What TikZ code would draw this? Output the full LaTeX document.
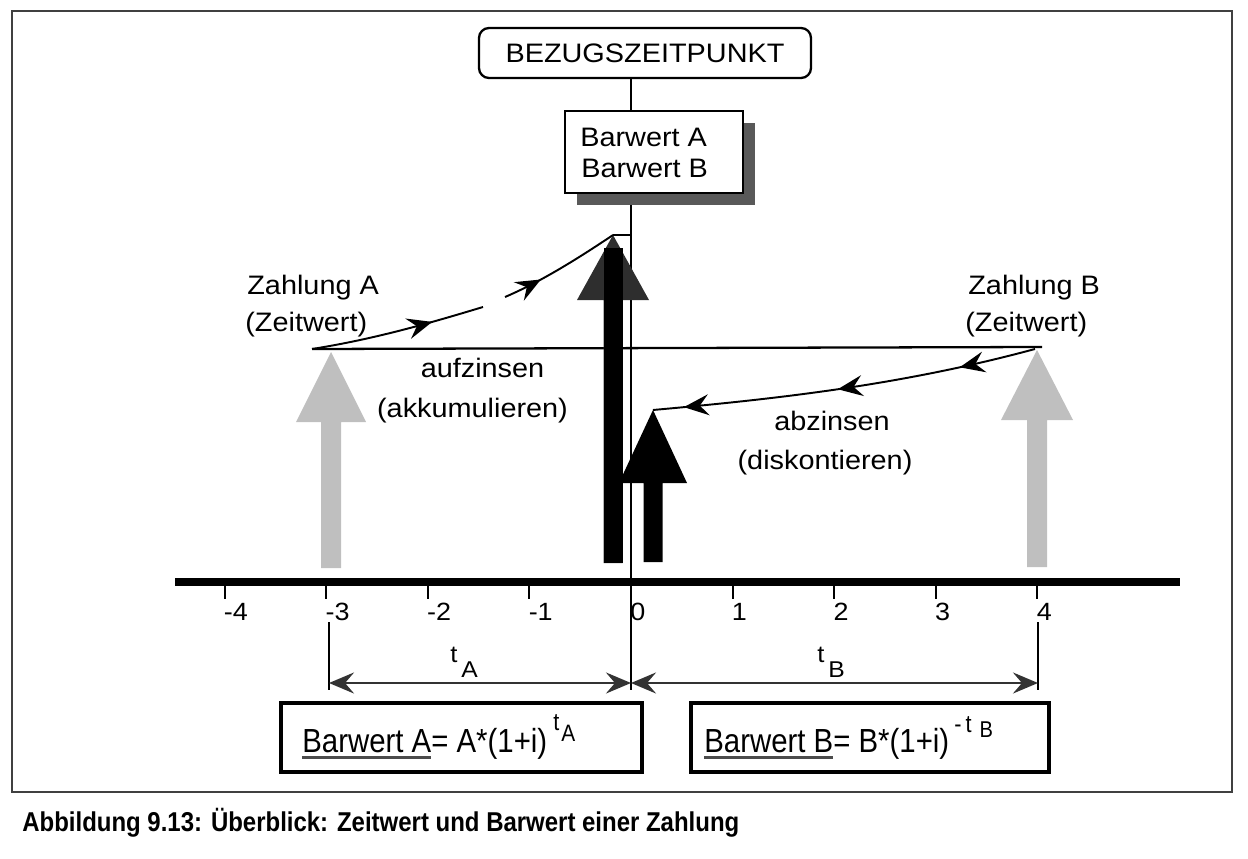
\documentclass[tikz,border=0pt]{standalone}
\usepackage{fontspec}
\setmainfont{Liberation Sans}[FakeStretch=1.08]
\newfontfamily\formelfont{Liberation Sans}[FakeStretch=0.88]
\newfontfamily\titelfont{Liberation Sans}[FakeStretch=0.88]
\usetikzlibrary{arrows.meta,decorations.markings,shadows}

\tikzset{spitze/.tip={Stealth[length=0.5cm,width=0.42cm,inset=0.18cm]}}

\newcommand{\lblfont}{\fontsize{15.2}{18}\selectfont}
\newcommand{\zahlfont}{\fontsize{14.2}{16}\selectfont}
\newsavebox{\ulbox}
\newcommand{\unterstr}[1]{\sbox{\ulbox}{#1}\rlap{\color{black!70}\rule[-0.14cm]{\wd\ulbox}{0.07cm}}\usebox{\ulbox}}
% x, unten, kopf, spitze, halber schaft, halber kopf
\newcommand{\blockpfeil}[7][black]{%
  \fill[#1] ({#2-#6},#3) -- ({#2+#6},#3) -- ({#2+#6},#4) -- ({#2+#7},#4) -- (#2,#5)
    -- ({#2-#7},#4) -- ({#2-#6},#4) -- cycle;}

\begin{document}
\begin{tikzpicture}[
  linie/.style={line width=1.3pt},
  kurve/.style={line width=1.1pt, postaction={decorate}},
  grau/.style={fill=black!25},
  rahmenbox/.style={draw, line width=2.2pt, minimum width=7.22cm, minimum height=1.38cm},
  mass/.style={line width=1.6pt, black!80, {spitze}-{spitze}},
  beschr/.style={font=\lblfont, anchor=base west, inner sep=0},
  mitte/.style={font=\lblfont, anchor=base, inner sep=0},
]
\useasboundingbox (0,0) rectangle (24.96,17.16);
% Rahmen
\draw[black!75, line width=1pt] (0.24,1.32) rectangle (24.64,16.94);

\coordinate (null) at (12.62,5.52);
\coordinate (tfuss) at (12.62,3.36);

\node[draw, linie, rounded corners=0.2cm, minimum width=6.64cm, minimum height=1cm, font=\lblfont] (bezug) at (12.9,16.1) {BEZUGSZEITPUNKT};
\draw[linie] (bezug.south -| null) -- (tfuss);

\node[draw, linie, fill=white, minimum width=3.56cm, minimum height=1.64cm,
  drop shadow={shadow xshift=0.24cm, shadow yshift=-0.24cm, fill=black!65, opacity=1}] (barwerte) at (13.08,14.12) {};
\node[beschr] (bwa) at (11.6,14.23) {Barwert A};
\node[beschr] (bwb) at (11.62,13.6) {Barwert B};

% Zeitwert-Linie
\coordinate (links) at (6.24,10.18);
\coordinate (rechts) at (20.84,10.22);
\draw[linie] (links) -- (rechts);

% Pfeile
\coordinate (spitzeB) at (20.7,10.18);
\coordinate (spitzeG) at (12.26,12.46);
\coordinate (spitzeK) at (13.06,8.96);
\blockpfeil[grau]{6.62}{5.8}{8.72}{10.12}{0.2}{0.7}
\blockpfeil[grau]{20.74}{5.82}{8.76}{10.16}{0.2}{0.72}
\blockpfeil[fill=black!82]{12.26}{5.9}{11.16}{12.46}{0.19}{0.72}
\fill[black] (12.07,5.9) rectangle (12.45,12.2);
\blockpfeil{13.06}{5.92}{7.5}{8.96}{0.19}{0.68}

% aufzinsen / abzinsen
\draw[kurve, decoration={markings, mark=at position 0.7 with {\arrow{spitze}}}]
  (links) .. controls (7.5,10.38) and (8.6,10.7) .. (9.66,11.02);
\draw[kurve, decoration={markings, mark=at position 0.32 with {\arrow{spitze}}}]
  (10.1,11.22) .. controls (10.8,11.52) and (11.5,11.95) .. (spitzeG);
\draw[linie] (spitzeG) -- (spitzeG -| null);
\draw[kurve, decoration={markings, mark=at position 0.2 with {\arrow{spitze}},
  mark=at position 0.52 with {\arrow{spitze}}, mark=at position 0.92 with {\arrow{spitze}}}]
  (spitzeB) .. controls (18.0,9.45) and (15.5,9.18) .. (spitzeK);

\node[beschr] (zahlA) at (4.94,11.27) {Zahlung A};
\node[beschr] (zeitA) at (4.9,10.54) {(Zeitwert)};
\node[beschr] (zahlB) at (19.36,11.27) {Zahlung B};
\node[beschr] (zeitB) at (19.3,10.54) {(Zeitwert)};
\node[mitte] (auf) at (9.65,9.62) {aufzinsen};
\node[mitte] (akk) at (9.45,8.82) {(akkumulieren)};
\node[mitte] (abz) at (16.64,8.55) {abzinsen};
\node[mitte] (disk) at (16.5,7.78) {(diskontieren)};

% Zeitachse
\draw[line width=4.5pt] (3.5,5.52) -- (23.6,5.52);
\foreach \t [count=\i] in {-4,...,4} {
  \draw[line width=1.1pt] ({12.62+\t*2.032},5.44) -- ++(0,-0.26);
  \node[font=\zahlfont, anchor=base west, inner sep=0] (z\i) at ({12.6+\t*2.032},4.76) {\t};
}

% Bemassung
\coordinate (ta) at (6.58,3.5);
\coordinate (t0) at (12.62,3.5);
\coordinate (tb) at (20.76,3.5);
\draw[linie] (ta) ++(0,1.22) -- ++(0,-1.36);
\draw[linie] (tb) ++(0,1.22) -- ++(0,-1.36);
\draw[mass] (ta) -- (t0);
\draw[mass] (t0) -- (tb);
\node[anchor=base west, inner sep=0] (tA) at (9.0,3.92) {\fontsize{13.5}{16}\selectfont t\,\raisebox{-0.3cm}{\fontsize{13}{14}\selectfont A}};
\node[anchor=base west, inner sep=0] (tB) at (16.34,3.92) {\fontsize{13.5}{16}\selectfont t\,\raisebox{-0.3cm}{\fontsize{13}{14}\selectfont B}};

% Formeln
\node[rahmenbox] (kastenA) at (9.23,2.41) {};
\node[rahmenbox, minimum width=7.16cm] (kastenB) at (17.4,2.41) {};
\node[anchor=base west, inner sep=0, font={\formelfont\fontsize{19}{22}\selectfont}] (formelA) at (6.04,2.12)
  {\unterstr{Barwert A}= A*(1+i)\hspace{0.12cm}\raisebox{0.44cm}{\fontsize{14}{15}\selectfont t}\hspace{0.04cm}\raisebox{0.22cm}{\fontsize{13.5}{15}\selectfont A}};
\node[anchor=base west, inner sep=0, font={\formelfont\fontsize{19}{22}\selectfont}] (formelB) at (14.08,2.12)
  {\unterstr{Barwert B}= B*(1+i)\hspace{0.1cm}\raisebox{0.4cm}{\fontsize{14}{15}\selectfont -\,t}\hspace{0.16cm}\raisebox{0.3cm}{\fontsize{13}{15}\selectfont B}};

\node[anchor=base west, inner sep=0, font={\titelfont\bfseries\fontsize{15.5}{18}\selectfont}] (titel) at (0.44,0.53)
  {Abbildung 9.13: Überblick: Zeitwert und Barwert einer Zahlung};
\end{tikzpicture}
\end{document}
